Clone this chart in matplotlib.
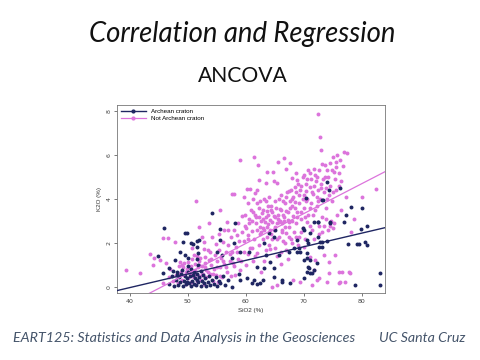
import numpy as np
import matplotlib
matplotlib.use("Agg")
import matplotlib.pyplot as plt
from matplotlib.lines import Line2D

# Not Archean craton (SiO2 %, K2O %)
not_x = [39.4, 41.8, 43.5, 44.1, 44.0, 45.2, 46.3, 45.8, 46.5, 47.7, 45.8, 46.8, 47.0, 47.5,
         48.0, 48.3, 48.6, 48.8, 49.0, 49.3, 49.4, 49.6, 49.8, 50.1, 50.0, 50.3, 50.5, 50.6, 50.9, 51.0,
         51.2, 51.4, 51.5, 51.7, 51.9, 52.0, 52.2, 52.3, 52.5, 52.6, 52.8, 52.9, 53.1, 53.2, 49.2, 50.8,
         51.6, 48.4, 53.0, 52.1,
         50.7, 51.1, 52.4, 52.8, 51.4, 52.0, 53.4, 53.6, 53.7, 53.9, 54.2, 54.0,
         54.3, 54.5, 54.6, 54.8, 54.9, 55.1, 55.2, 55.4, 55.6, 55.6, 55.8, 55.9, 56.1, 56.2, 56.3, 56.5,
         56.7, 56.8, 57.0, 57.2, 57.4, 57.5, 57.7, 57.9, 58.0, 58.2, 58.3, 58.5, 57.6, 57.9, 58.7, 58.9, 59.0,
         59.0, 59.3, 59.6, 59.4, 59.7, 59.9, 60.0, 60.2, 60.3, 60.5, 60.7, 60.8, 60.9, 61.1, 61.3, 61.4,
         61.5, 61.6, 61.8, 61.9, 62.0, 62.1, 62.2, 62.3, 62.4, 62.6, 62.7, 62.8, 63.0, 63.1, 63.2, 63.4,
         63.5, 63.6, 63.7, 63.8, 63.9, 64.0, 64.1, 64.2, 64.4, 64.5, 64.6, 64.7, 64.8, 64.9, 62.9, 62.5,
         61.0, 63.3, 63.6, 60.1, 61.7,
         65.0, 65.1, 65.3, 65.4, 65.4, 65.5, 65.6, 65.8, 65.9, 66.0, 66.1, 66.3, 66.4, 66.6, 66.7, 66.8,
         66.9, 67.0, 67.1, 67.2, 67.3, 67.4, 67.5, 67.6, 67.7, 67.8, 67.9, 68.0, 68.1, 68.2, 68.3, 68.4,
         68.5, 68.6, 68.7, 68.8, 68.9, 66.2, 66.5, 67.0, 65.7, 68.0,
         69.1, 69.2, 69.4, 69.5, 69.6, 69.8, 70.0, 70.0, 70.1, 70.3, 70.5, 70.6, 70.8, 71.0, 71.1, 71.1,
         71.3, 71.4, 71.5, 71.6, 71.7, 71.7, 71.9, 72.0, 72.1, 72.3, 72.3, 72.4, 72.5, 72.6, 72.6, 72.8,
         72.9, 73.0, 73.1, 72.2, 70.4, 69.9,
         73.3, 73.5, 73.5, 73.7, 73.8, 74.0, 74.0, 74.1, 74.3, 74.3, 74.4, 74.6, 74.7, 74.9, 75.1, 75.2,
         75.2, 75.4, 75.5, 75.6, 75.7, 75.8, 76.0, 76.1, 76.1, 76.3, 76.3, 76.5, 76.6, 76.9, 77.1, 77.5,
         77.3, 77.8, 77.9, 78.2, 78.6, 80.0, 82.4, 73.9, 74.6, 75.0,
         # main band above the line
         60.4, 60.6, 61.2, 61.4, 61.9, 62.2, 62.4, 62.7, 63.0, 63.2, 63.4, 63.7, 63.9, 64.1, 64.3, 64.5,
         64.6, 64.8, 65.0, 65.2, 65.3, 65.5, 65.7, 65.9, 66.0, 66.2, 66.4, 66.6, 66.8, 67.0, 67.2, 67.4,
         67.6, 67.8, 68.0, 68.2, 68.4, 68.6, 68.8, 69.0, 69.2, 69.4, 69.6, 69.8, 70.0, 70.2, 70.4, 70.6,
         70.8, 71.0, 71.2, 71.4, 71.6, 71.8, 72.0, 72.2, 72.4, 72.6, 72.8, 73.0, 73.2, 73.4, 73.6, 73.8,
         74.0, 74.2, 74.5, 74.8, 75.0, 75.3, 75.6, 76.0, 76.4, 76.8,
         # below the line
         63.0, 63.5, 64.0, 64.4, 65.0, 65.4, 66.0, 66.4, 67.0, 67.5, 68.0, 68.6, 69.0, 69.6, 70.2, 71.0,
         71.8, 72.6, 73.2,
         # lower left
         48.5, 49.0, 49.6, 50.2, 50.8, 51.3, 51.9, 52.4, 53.0, 53.5, 54.0, 54.4, 55.0, 55.5, 56.0, 56.6,
         57.2, 57.8, 58.4, 59.2, 59.6, 60.4, 61.0, 61.6, 62.2, 53.8, 52.7, 55.3, 57.0, 58.6, 59.8, 60.4,
         61.2, 62.0]
not_y = [0.78, 0.63, 1.51, 1.31, 1.01, 1.24, 1.09, 2.22, 2.22, 2.07, 0.18, 0.45, 0.84, 0.30,
         0.55, 0.20, 1.16, 0.70, 0.35, 1.09, 0.55, 0.15, 0.85, 1.16, 0.40, 0.65, 0.95, 0.25, 0.75, 0.45,
         1.05, 0.60, 0.30, 0.90, 0.50, 1.20, 0.75, 0.35, 0.95, 0.60, 0.15, 1.10, 0.80, 0.45, 0.90, 1.30,
         1.40, 0.95, 1.39, 1.31,
         1.77, 1.46, 2.29, 2.07, 3.92, 2.72, 1.70, 2.90, 1.25, 0.60, 2.29, 1.00,
         0.30, 0.85, 1.45, 1.95, 0.55, 1.20, 0.25, 1.70, 0.90, 3.50, 1.35, 0.45, 2.05, 2.60, 1.05, 1.60,
         2.97, 0.70, 1.90, 1.20, 2.30, 0.50, 1.60, 2.60, 0.95, 0.56, 1.85, 2.35, 4.23, 4.23, 1.30, 2.10, 0.80,
         5.77, 3.23, 4.11, 2.50, 1.60, 2.80, 1.00, 4.44, 2.20, 3.10, 4.44, 1.80, 3.50, 2.55, 1.20, 5.92,
         3.30, 4.26, 2.90, 3.81, 1.55, 5.54, 4.86, 3.60, 2.40, 3.00, 0.70, 3.35, 2.70, 4.00, 1.20, 4.74,
         3.20, 2.30, 5.24, 3.70, 2.85, 4.11, 1.75, 3.05, 3.50, 0.03, 2.20, 5.24, 4.83, 3.25, 3.10, 2.75,
         3.00, 2.95, 3.45, 2.70, 3.20,
         2.75, 3.90, 1.40, 4.71, 0.10, 5.66, 3.10, 2.30, 3.55, 1.05, 4.20, 2.60, 3.30, 5.84, 2.00, 3.80,
         5.35, 2.45, 4.33, 3.05, 1.30, 4.38, 2.75, 5.65, 3.60, 2.20, 4.00, 4.94, 3.25, 0.33, 2.50, 4.53,
         3.85, 5.17, 2.90, 4.86, 3.40, 2.90, 3.00, 3.45, 2.95, 3.70,
         2.29, 4.20, 0.26, 3.10, 4.60, 2.70, 1.84, 5.10, 3.60, 4.35, 2.95, 4.90, 3.30, 4.55, 1.39, 5.17,
         3.80, 0.10, 2.60, 4.25, 5.35, 0.78, 3.50, 1.24, 4.80, 5.01, 0.33, 7.88, 3.90, 0.41, 2.40, 6.82,
         4.50, 6.22, 3.20, 4.10, 3.90, 4.00,
         4.90, 1.46, 2.80, 5.54, 3.60, 5.31, 0.26, 2.60, 1.16, 0.63, 4.20, 5.62, 3.00, 3.90, 5.92, 2.90,
         5.24, 1.47, 5.46, 5.69, 3.30, 5.99, 0.71, 0.21, 4.60, 5.77, 0.25, 3.50, 0.71, 6.14, 0.26, 6.07,
         4.10, 0.71, 0.66, 2.50, 3.10, 4.10, 4.44, 3.10, 2.80, 2.70,
         2.35, 2.90, 3.40, 2.20, 2.60, 3.20, 3.90, 2.50, 3.50, 2.60, 3.90, 2.75, 3.30, 2.60, 3.70, 2.95,
         3.40, 2.60, 3.20, 3.60, 2.90, 3.30, 4.00, 3.00, 3.50, 2.50, 3.90, 3.20, 2.75, 4.10, 3.40, 2.95,
         3.90, 4.40, 3.00, 4.10, 3.60, 4.30, 3.20, 4.70, 3.80, 4.40, 3.40, 5.00, 4.20, 3.20, 4.70, 4.00,
         5.30, 3.60, 4.90, 4.30, 3.30, 4.60, 5.10, 3.70, 4.40, 5.30, 4.00, 4.70, 5.60, 4.30, 5.00, 4.50,
         4.00, 5.00, 4.60, 5.30, 4.30, 4.90, 4.40, 5.20, 4.80, 5.50,
         2.20, 1.70, 1.90, 2.40, 1.80, 2.20, 1.60, 2.10, 1.70, 2.30, 2.00, 2.30, 1.90, 2.50, 2.20, 2.80,
         2.20, 2.80, 2.50,
         0.60, 1.00, 0.70, 0.90, 0.50, 0.80, 1.00, 0.55, 0.90, 0.70, 1.30, 0.60, 0.90, 0.50, 1.20, 0.90,
         1.50, 1.10, 1.60, 1.20, 2.10, 1.50, 1.80, 1.40, 1.90, 1.60, 1.75, 2.40, 2.60, 2.90, 3.30, 3.80,
         4.00, 4.40]

# Archean craton
arch_x = [46.8, 47.2, 47.6, 47.9, 48.1, 48.3, 48.5, 48.7, 48.9, 49.1, 49.3, 49.5, 49.7, 49.9, 50.0, 50.2,
          50.4, 50.5, 50.7, 50.9, 51.0, 51.2, 51.4, 51.6, 51.8, 52.0, 52.2, 52.4, 52.6, 52.8, 53.0, 53.2,
          53.4, 53.6, 53.9, 54.2, 54.5, 54.8, 55.0, 55.3, 55.6, 56.0, 56.4, 49.0, 50.6, 52.3, 51.1, 48.2,
          49.8, 51.5,
          45.9, 44.9, 45.8, 46.7, 47.4, 47.8, 48.7, 49.2, 49.5, 49.5, 49.9, 50.1, 50.1, 50.5, 50.9, 51.5,
          52.0, 51.6, 51.8, 51.5, 51.8, 54.1, 55.5, 55.6, 55.0, 55.9, 57.9, 57.6, 58.2, 59.0, 60.5, 63.1,
          64.0, 64.8, 65.1, 63.4, 64.2, 65.7, 67.4, 68.3, 61.9, 63.1, 64.8, 60.2, 61.4, 59.0, 58.8, 66.3,
          62.5, 57.0, 57.6, 61.0, 61.9, 63.0, 64.9, 66.2, 67.6, 69.1, 69.4, 69.9, 70.3, 70.8, 71.1, 70.5,
          70.8, 71.1, 71.7, 71.7, 72.5, 73.3, 74.0, 74.4, 74.5, 72.8, 73.1, 74.0, 76.3, 77.0, 77.3, 78.1,
          77.7, 78.9, 79.1, 80.0, 79.8, 80.9, 80.6, 80.9, 83.2, 83.1,
          73.2, 72.4, 74.6, 70.0, 70.6, 72.4, 73.2, 72.6, 79.5, 68.8, 70.6, 71.1, 70.0, 72.3, 70.9, 70.6,
          71.4, 70.0, 68.8]
arch_y = [0.15, 0.50, 0.05, 0.35, 0.70, 0.10, 0.45, 0.25, 0.60, 0.05, 0.30, 0.50, 0.15, 0.40, 0.70, 0.20,
          0.50, 0.05, 0.30, 0.55, 0.15, 0.40, 0.10, 0.60, 0.25, 0.45, 0.05, 0.30, 0.55, 0.20, 0.40, 0.05,
          0.25, 0.50, 0.10, 0.35, 0.15, 0.45, 0.05, 0.30, 0.20, 0.50, 0.10, 0.80, 0.85, 0.75, 0.70, 0.55,
          0.25, 0.35,
          2.70, 1.42, 0.63, 0.86, 0.76, 1.24, 1.61, 2.07, 2.45, 1.46, 2.48, 1.31, 0.97, 1.99, 1.96, 2.11,
          2.14, 1.81, 1.54, 1.28, 1.01, 3.35, 2.63, 2.14, 1.61, 1.46, 2.02, 1.31, 2.90, 1.61, 1.61, 1.99,
          2.45, 2.29, 2.60, 1.46, 1.16, 1.46, 1.61, 1.77, 0.91, 0.86, 0.86, 0.41, 0.33, 0.33, 0.60, 0.33,
          0.18, 0.33, 0.03, 0.21, 0.14, 0.33, 0.48, 0.26, 0.21, 1.77, 1.60, 2.67, 4.03, 1.99, 2.45, 1.31,
          0.94, 0.63, 0.79, 2.98, 2.98, 3.96, 4.79, 4.41, 2.98, 2.07, 1.84, 2.10, 4.49, 2.98, 3.28, 3.66,
          1.95, 0.11, 1.95, 3.58, 2.63, 2.78, 2.07, 1.92, 0.66, 0.11,
          3.96, 2.97, 2.90, 2.60, 2.14, 2.29, 2.07, 1.84, 1.96, 1.61, 1.54, 1.24, 1.24, 1.09, 0.86, 0.71,
          0.63, 0.41, 2.14]

# regression lines as drawn on the slide (slope, intercept)
not_fit = [0.1356, -6.15]
arch_fit = [0.0617, -2.48]

navy = "#1f2662"
orchid = "#dc74dc"

fig = plt.figure(figsize=(4.8, 3.6), dpi=100)
fig.patch.set_facecolor("white")

ax = fig.add_axes([0.244, 0.186, 0.558, 0.522])
ax.scatter(not_x, not_y, s=8, color=orchid, linewidths=0, zorder=2)
ax.scatter(arch_x, arch_y, s=8, color=navy, linewidths=0, zorder=3)

xx = np.array([37.0, 85.0])
ax.plot(xx, np.polyval(not_fit, xx), color=orchid, lw=0.9, zorder=4)
ax.plot(xx, np.polyval(arch_fit, xx), color=navy, lw=1.0, zorder=4)

ax.set_xlim(37.8, 84.0)
ax.set_ylim(-0.26, 8.26)
ax.set_xticks([40, 50, 60, 70, 80])
ax.set_yticks([0, 2, 4, 6, 8])
ax.tick_params(labelsize=4.5, length=2, width=0.5, pad=2, colors="#444444")
for lab in ax.get_yticklabels():
    lab.set_rotation(90)
    lab.set_va("center")
for sp in ax.spines.values():
    sp.set_color("#777777")
    sp.set_linewidth(0.6)
ax.set_xlabel("SiO2 (%)", fontsize=4.5, family="Liberation Sans", labelpad=3, color="#333333")
ax.set_ylabel("K2O (%)", fontsize=4.5, family="Liberation Sans", labelpad=3, color="#333333")

handles = [Line2D([], [], color=navy, marker="o", markersize=2, lw=1.0),
           Line2D([], [], color=orchid, marker="o", markersize=2, lw=0.9)]
ax.legend(handles, ["Archean craton", "Not Archean craton"], loc="upper left",
          frameon=False, prop={"family": "Liberation Sans", "size": 4.5},
          handlelength=4, borderaxespad=0.2, labelspacing=0.2, handletextpad=0.8)

# slide text
fig.text(0.505, 0.905, "Correlation and Regression", ha="center", va="center",
         fontsize=19.8, style="italic", family="Lato", color="#111111")
fig.text(0.505, 0.79, "ANCOVA", ha="center", va="center",
         fontsize=15.2, family="Lato", color="#111111")
fig.text(0.028, 0.062, "EART125: Statistics and Data Analysis in the Geosciences",
         ha="left", va="center", fontsize=10.3, style="italic", family="Lato", color="#44546a")
fig.text(0.97, 0.062, "UC Santa Cruz", ha="right", va="center",
         fontsize=10.2, style="italic", family="Lato", color="#44546a")

fig.savefig("out.png", dpi=100)
